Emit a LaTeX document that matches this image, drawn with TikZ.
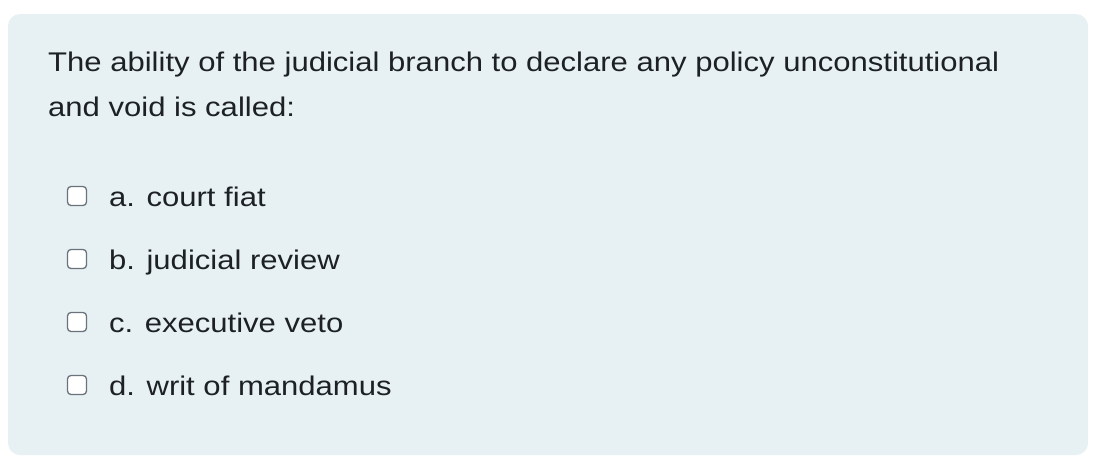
\documentclass[tikz,border=0pt]{standalone}
\usepackage{fontspec}
\setmainfont{Liberation Sans}[FakeStretch=1.15]
\definecolor{bg}{HTML}{E7F1F4}
\definecolor{txt}{HTML}{1D2125}
\definecolor{boxc}{HTML}{6A737B}
\begin{document}
\begin{tikzpicture}[x=1pt,y=-1pt,
  t/.style={anchor=base west,inner sep=0,text=txt,font=\fontsize{27}{30}\selectfont},
  cb/.style={draw=boxc,line width=1.3pt,rounded corners=3.5pt,fill=white,minimum width=19pt,minimum height=19pt,inner sep=0}]
\useasboundingbox (0,0) rectangle (1100,472);
\fill[bg,rounded corners=12pt] (8,14) rectangle (1088,455);
\node[t] (q1) at (48,71) {The ability of the judicial branch to declare any policy unconstitutional};
\node[t] (q2) at (48,116) {and void is called:};
\node[cb] (ca) at (77,196) {};
\node[t] (a) at (109,206) {a. court fiat};
\node[cb] (cbb) at (77,259) {};
\node[t] (b) at (109,269) {b. judicial review};
\node[cb] (cc) at (77,322) {};
\node[t] (c) at (109,332) {c. executive veto};
\node[cb] (cd) at (77,385) {};
\node[t] (d) at (109,395) {d. writ of mandamus};
\end{tikzpicture}
\end{document}
